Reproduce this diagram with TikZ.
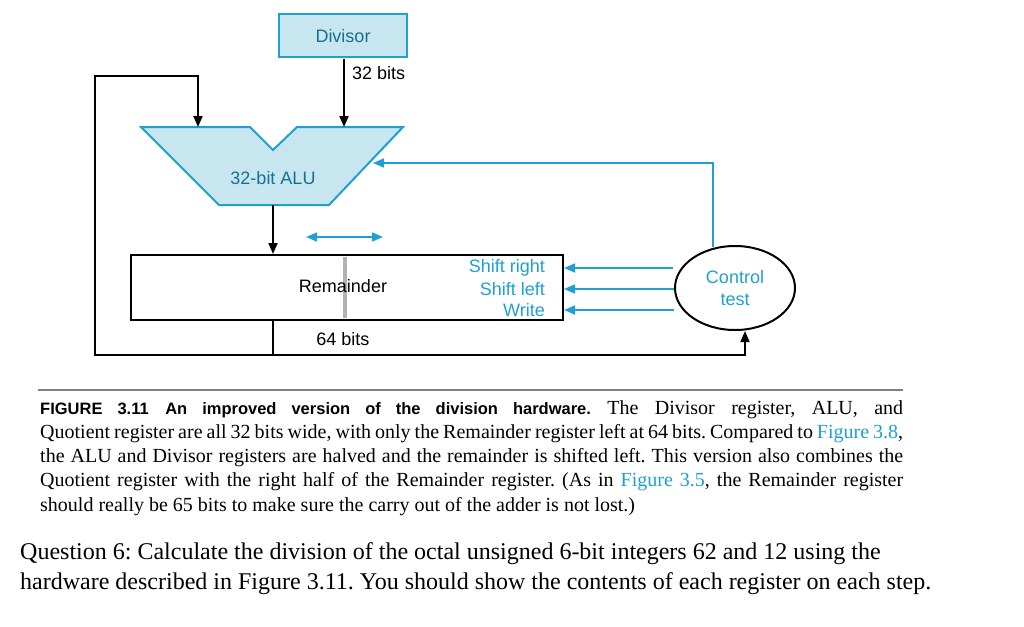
\documentclass[tikz,border=0pt]{standalone}
\usepackage{fontspec}
\setmainfont{Liberation Serif}
\newfontfamily\diagfont{Liberation Sans}
\usetikzlibrary{arrows.meta,positioning,shapes.geometric}
\definecolor{hwblue}{RGB}{30,160,210}
\definecolor{hwfill}{RGB}{200,230,240}
\begin{document}
\frenchspacing
\begin{tikzpicture}[x=1pt,y=-1pt,>={Triangle[length=11pt,width=9pt]},
                    font=\diagfont\fontsize{18}{20}\selectfont,
                    wire/.style={line width=2pt,->},
                    ctrl/.style={hwblue,line width=1.6pt,->},
                    lbl/.style={inner sep=0pt}]
  \useasboundingbox (0,0) rectangle (1024,626);
  % registers
  \node[draw=hwblue,fill=hwfill,line width=2pt,minimum width=128pt,minimum height=43pt,
        text=hwblue!70!black] (divisor) at (343,36) {Divisor};
  \node[draw,line width=2pt,minimum width=432pt,minimum height=65pt,inner sep=0pt] (rem) at (347,287.5) {};
  \draw[gray!60,line width=4pt] (345,257) -- (345,318);
  \node[lbl] (remlbl) at (343,286) {Remainder};
  \node[lbl,hwblue,anchor=east] (sr) at (545,268) {Shift right};
  \node[lbl,hwblue,anchor=east] (sl) at (545,289) {Shift left};
  \node[lbl,hwblue,anchor=east] (wr) at (545,310) {Write};
  % alu
  \draw[hwblue,fill=hwfill,line width=2pt] (141,127) -- (250,127) -- (273,150) -- (297,127)
        -- (403,127) -- (329,205) -- (219,205) -- cycle;
  \node[lbl,hwblue!70!black] (alu) at (273,178) {32-bit ALU};
  \coordinate (aluL) at (198,127);
  \coordinate (aluR) at (344,127);
  \coordinate (aluC) at (373,163);
  \coordinate (aluO) at (273,205);
  % control
  \node[draw,ellipse,line width=2pt,minimum width=120pt,minimum height=84pt,
        text=hwblue,align=center,inner sep=0pt] (ctl) at (735,288) {Control\\[2pt]test};
  \node[lbl,anchor=west] (b32) at (352,73) {32 bits};
  \node[lbl] (b64) at (343,339) {64 bits};
  % data paths
  \draw[wire] (divisor.south -| aluR) -- (aluR);
  \draw[wire] (aluO) -- (rem.north -| aluO);
  \draw[line width=2pt,->] (rem.south -| aluO) -- (273,355) -- (95,355) -- (95,76) -- (198,76) -- (aluL);
  \draw[line width=1.6pt,->] (273,355) -- (745,355) -- (ctl.south -| 745,0);
  % control lines
  \draw[ctrl] (713,247) -- (713,163) -- (aluC);
  \draw[ctrl] (ctl.west |- sr) ++(-1,0) -- (rem.east |- sr);
  \draw[ctrl] (ctl.west |- sl) -- (rem.east |- sl);
  \draw[ctrl] (ctl.west |- wr) ++(0,0) -- (rem.east |- wr);
  \draw[hwblue,line width=1.6pt,{Triangle[length=11pt,width=9pt]}-{Triangle[length=11pt,width=9pt]}] (306,237) -- (383,237);
  % caption
  \draw[gray,line width=2pt] (38,390) -- (903,390);
  \node[lbl,anchor=north west,text width=863pt,align=justify,
        font=\fontsize{20}{24.3}\selectfont] (cap) at (40,400)
   {{\diagfont\bfseries\fontsize{16.5}{24.3}\selectfont FIGURE 3.11\quad An improved version of the division hardware.} The Divisor register, ALU, and\linebreak
    Quotient register are all 32 bits wide, with only the Remainder register left at 64 bits. Compared to {\color{hwblue}Figure 3.8},\linebreak
    the ALU and Divisor registers are halved and the remainder is shifted left. This version also combines the\linebreak
    Quotient register with the right half of the Remainder register. (As in {\color{hwblue}Figure 3.5}, the Remainder register\linebreak
    should really be 65 bits to make sure the carry out of the adder is not lost.)};
  \node[lbl,anchor=north west,align=left,font=\fontsize{24}{30}\selectfont] (quest) at (20,542)
   {Question 6: Calculate the division of the octal unsigned 6-bit integers 62 and 12 using the\\
    hardware described in Figure 3.11. You should show the contents of each register on each step.};
\end{tikzpicture}
\end{document}
